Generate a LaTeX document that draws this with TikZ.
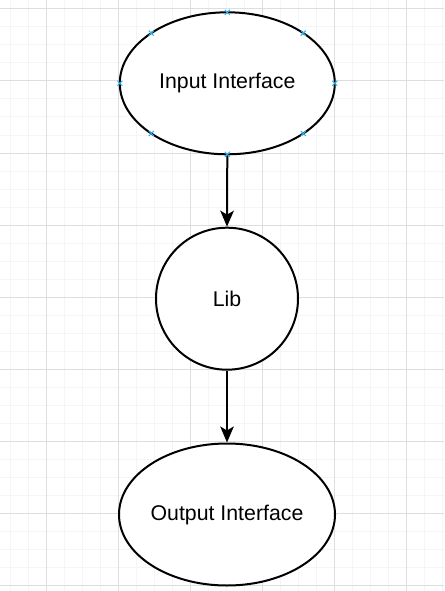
\documentclass[tikz,border=0pt]{standalone}
\usepackage{fontspec}
\setmainfont{Liberation Sans}
\usetikzlibrary{shapes.geometric,arrows.meta,calc}
\definecolor{minorgrid}{RGB}{245,245,245}
\definecolor{majorgrid}{RGB}{222,222,222}
\definecolor{handle}{RGB}{41,182,242}
\tikzset{
  oval/.style={ellipse,draw=black,line width=2pt,fill=white,minimum width=215pt,minimum height=142pt,inner sep=0pt,font=\fontsize{21.3}{25}\selectfont},
  roundnode/.style={circle,draw=black,line width=2pt,fill=white,minimum size=142pt,inner sep=0pt,font=\fontsize{21.3}{25}\selectfont},
  flow/.style={line width=2pt,-{Stealth[length=16pt,width=13.5pt,inset=4pt]}},
  handlemark/.style={draw=handle,line width=1pt}
}
\begin{document}
\begin{tikzpicture}[x=1pt,y=-1pt]
\useasboundingbox (0,0) rectangle (444,591);
\fill[white] (0,0) rectangle (444,591);
% grid
\foreach \gx in {10,28,...,442} {\draw[minorgrid,line width=1pt] (\gx,0) -- (\gx,591);}
\foreach \gy in {9,27,...,590} {\draw[minorgrid,line width=1pt] (0,\gy) -- (444,\gy);}
\foreach \gx in {46,118,...,442} {\draw[majorgrid,line width=1pt] (\gx,0) -- (\gx,591);}
\foreach \gy in {9,81,...,590} {\draw[majorgrid,line width=1pt] (0,\gy) -- (444,\gy);}
% nodes
\node[oval] (in) at (227.3,83.3) {Input Interface};
\node[roundnode] (lib) at (227,298.7) {Lib};
\node[oval] (out) at (227,514.5) {Output Interface};
% connectors
\draw[flow] (in.south) -- (lib.north);
\draw[flow] (lib.south) -- (out.north);
% selection handles
\foreach \a in {0,45,...,315} {
  \coordinate (h) at ($(in.center)+({107.5*cos(\a)},{71*sin(\a)})$);
  \draw[handlemark] ($(h)+(-2.5,-2.5)$) -- ($(h)+(2.5,2.5)$);
  \draw[handlemark] ($(h)+(-2.5,2.5)$) -- ($(h)+(2.5,-2.5)$);
}
\end{tikzpicture}
\end{document}
